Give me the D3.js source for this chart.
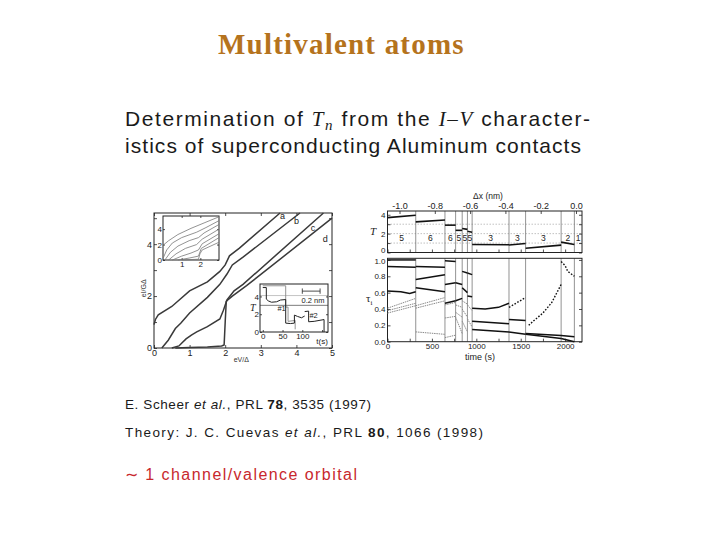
<!DOCTYPE html>
<html lang="en">
<head>
<meta charset="utf-8">
<title>Multivalent atoms</title>
<script src="https://cdn.jsdelivr.net/npm/d3@7"></script>
<style>
  body { margin: 0; background: #fff; }
  svg { display: block; }
  .tick text { font-family: "Liberation Sans", Arial, sans-serif; font-size: 9px; fill: #222; }
  .tick line { stroke: #222; stroke-width: 0.8; }
  .frame { fill: none; stroke: #222; stroke-width: 1; }
</style>
</head>
<body>
<svg id="slide" width="720" height="540"></svg>
<script>
// ---- left panel: I-V curves (eV/Delta, eI/G Delta) ----
var ivA = [[0,0.9],[0.04,1.1],[0.12,1.28],[0.5,1.6],[1.0,2.2],[1.5,2.55],[1.85,2.95],[2.0,3.2],[2.12,3.55],[2.4,3.85],[3.54,5.2]];
var ivB = [[0.22,0],[0.4,0.3],[0.6,0.75],[0.75,0.95],[1.0,1.35],[1.5,1.95],[1.85,2.45],[2.05,2.85],[2.2,3.2],[2.5,3.5],[4.1,5.2]];
var ivC = [[0.5,0],[0.7,0.08],[0.9,0.35],[1.05,0.5],[1.2,0.62],[1.5,0.82],[1.85,1.12],[1.95,1.45],[2.05,1.85],[2.25,2.2],[2.5,2.45],[4.76,5.2]];
var ivD = [[0.6,0],[1.0,0.02],[1.5,0.04],[1.9,0.08],[1.97,0.12],[2.0,1.0],[2.03,1.8],[2.2,2.0],[2.6,2.4],[5.0,5.0]];
var ivNames = ["a", "b", "c", "d"];
var ivLabelAt = [[3.54,4.96],[3.93,4.78],[4.4,4.49],[4.74,4.1]];

// upper-left inset: theory curves
var thCurves = [
  [[0,1.9],[0.3,2.5],[0.8,3.3],[1.5,4.1],[2.2,4.8],[3,5.6]],
  [[0,0.2],[0.2,1.3],[0.5,2.2],[1,2.9],[1.8,3.6],[2.3,4.2],[3,5.1]],
  [[0.1,0],[0.4,1.0],[0.8,1.8],[1.4,2.5],[1.9,2.9],[2.2,3.5],[3,4.6]],
  [[0.3,0],[0.7,0.8],[1.2,1.5],[1.8,2.0],[2.1,2.7],[3,4.0]],
  [[0.5,0],[1.0,0.5],[1.5,0.9],[1.9,1.3],[2.1,2.1],[3,3.4]],
  [[0.8,0],[1.4,0.25],[1.9,0.5],[2.05,1.5],[3,2.9]],
  [[1.0,0],[1.9,0.1],[1.98,0.8],[2.1,1.3],[3,2.3]]
];

// lower-right inset: conductance vs time (s)
var gTrace1 = [[0,5.0],[9,5.0],[9,3.7],[14,3.5],[22,3.35],[35,3.4],[45,3.6],[58,3.65],[58,1.0],[70,0.95],[80,1.0],[80,1.9],[88,1.75],[98,1.6],[106,1.8]];
var gTrace2 = [[106,2.3],[116,2.35],[116,1.15],[130,1.2],[155,1.4],[155,0]];
var gTraceGray = [[0,5.2],[58,5.2],[58,2.8],[64,2.8],[64,1.2],[82,1.3],[82,0.3]];
var gRefLevels = [3.0, 4.1];

// ---- right panel: total transmission and channel transmissions vs time ----
var segBounds = [318, 647, 767, 841, 900, 953, 1368, 1555, 1955, 2104];
var segLabels = ["5", "6", "6", "5", "5", "5", "3", "3", "3", "2", "1"];
var totalT = [
  [0,3.7,318,3.95], [318,3.25,647,3.45], [647,2.9,767,2.9], [767,2.35,841,2.35],
  [841,2.55,900,2.45], [900,2.25,953,2.15], [953,0.85,1368,0.82], [1368,0.8,1555,0.95],
  [1555,0.45,1955,0.78], [1955,1.1,2104,0.85]
];
var chanDark = [
  [[0,1.0],[318,1.0]], [[0,0.92],[318,0.91]], [[0,0.62],[150,0.61],[250,0.59],[318,0.61]],
  [[318,0.92],[647,0.91]], [[318,0.76],[647,0.82]], [[318,0.66],[647,0.61]],
  [[647,0.99],[767,0.98]], [[647,0.70],[767,0.72]], [[647,0.47],[767,0.50]],
  [[767,0.72],[841,0.70]], [[767,0.50],[841,0.53]],
  [[841,0.86],[900,0.84]], [[841,0.66],[900,0.60]],
  [[900,0.84],[953,0.82]], [[900,0.56],[953,0.55]],
  [[953,0.41],[1100,0.40],[1250,0.42],[1368,0.47]], [[953,0.25],[1368,0.22]],
  [[953,0.15],[1368,0.12]], [[1368,0.27],[1555,0.26]], [[1368,0.12],[1555,0.09]],
  [[1555,0.09],[1955,0.04]], [[1955,0.04],[2104,0.0]], [[1555,0.10],[1955,0.075],[2104,0.06]]
];
var chanDotted = [
  [[1368,0.42],[1555,0.54]],
  [[1590,0.20],[1650,0.26],[1750,0.35],[1850,0.48],[1955,0.70]],
  [[1955,0.98],[2000,0.93],[2030,0.86],[2104,0.80]]
];
var chanGray = [
  [[0,0.41],[318,0.53]], [[0,0.38],[318,0.47]], [[0,0.35],[318,0.44]],
  [[318,0.44],[647,0.54]], [[318,0.41],[647,0.50]], [[318,0.12],[647,0.09]],
  [[647,0.45],[767,0.48]], [[647,0.29],[767,0.31]], [[647,0.05],[767,0.08]],
  [[767,0.45],[841,0.42]], [[767,0.36],[841,0.30]], [[767,0.30],[841,0.10]],
  [[841,0.50],[900,0.46]], [[841,0.40],[900,0.30]], [[841,0.25],[900,0.12]],
  [[900,0.45],[953,0.38]], [[900,0.28],[953,0.18]]
];

var svg = d3.select("#slide");
var sans = "'Liberation Sans', Arial, sans-serif";
var serif = "'Liberation Serif', 'Times New Roman', serif";

// ---- slide text ----
svg.append("text").attr("x", 218).attr("y", 54)
  .attr("font-family", serif).attr("font-weight", "bold").attr("font-size", 29)
  .attr("letter-spacing", 1.2).attr("fill", "#B5731D").text("Multivalent atoms");

var l1 = svg.append("text").attr("x", 125).attr("y", 126)
  .attr("font-family", sans).attr("font-size", 21).attr("fill", "#1a1a1a")
  .attr("textLength", 465).attr("lengthAdjust", "spacing");
l1.append("tspan").text("Determination of ");
l1.append("tspan").attr("font-family", serif).attr("font-style", "italic").text("T");
l1.append("tspan").attr("font-family", serif).attr("font-style", "italic").attr("font-size", 15).attr("dy", 4).text("n");
l1.append("tspan").attr("dy", -4).text("  from the ");
l1.append("tspan").attr("font-family", serif).attr("font-style", "italic").text("I–V");
l1.append("tspan").text("  character-");

svg.append("text").attr("x", 125).attr("y", 153)
  .attr("font-family", sans).attr("font-size", 21).attr("fill", "#1a1a1a")
  .attr("textLength", 456).attr("lengthAdjust", "spacing")
  .text("istics of superconducting Aluminum contacts");

var r1 = svg.append("text").attr("x", 125).attr("y", 409)
  .attr("font-family", sans).attr("font-size", 13.5).attr("fill", "#1a1a1a")
  .attr("textLength", 246).attr("lengthAdjust", "spacing");
r1.append("tspan").text("E. Scheer ");
r1.append("tspan").attr("font-style", "italic").text("et al.");
r1.append("tspan").text(", PRL ");
r1.append("tspan").attr("font-weight", "bold").text("78");
r1.append("tspan").text(", 3535 (1997)");

var r2 = svg.append("text").attr("x", 125).attr("y", 437)
  .attr("font-family", sans).attr("font-size", 13.5).attr("fill", "#1a1a1a")
  .attr("textLength", 358).attr("lengthAdjust", "spacing");
r2.append("tspan").text("Theory: J. C. Cuevas ");
r2.append("tspan").attr("font-style", "italic").text("et al.");
r2.append("tspan").text(", PRL ");
r2.append("tspan").attr("font-weight", "bold").text("80");
r2.append("tspan").text(", 1066 (1998)");

svg.append("text").attr("x", 125).attr("y", 480)
  .attr("font-family", sans).attr("font-size", 16).attr("fill", "#C8282D")
  .attr("textLength", 232).attr("lengthAdjust", "spacing")
  .text("∼ 1 channel/valence orbital");

// ---- helpers ----
function axes(g, x, y, o) {
  var y0 = y.range()[0], y1 = y.range()[1], x0 = x.range()[0], x1 = x.range()[1];
  var lab = function (list) { return function (d) { return list.indexOf(d) >= 0 ? o.fmt(d) : ""; }; };
  g.append("g").attr("transform", "translate(0," + y0 + ")")
    .call(d3.axisBottom(x).tickValues(o.xt).tickSize(-o.ts).tickPadding(o.tp).tickFormat(o.xl ? lab(o.xl) : ""));
  g.append("g").attr("class", "yax").attr("transform", "translate(" + x0 + ",0)")
    .call(d3.axisLeft(y).tickValues(o.yt).tickSize(-o.ts).tickPadding(o.tp).tickFormat(o.yl ? function (d) { return o.yl.indexOf(d) >= 0 ? o.yfmt(d) : ""; } : ""));
  if (o.top) g.append("g").attr("transform", "translate(0," + y1 + ")")
    .call(d3.axisTop(x).tickValues(o.xt).tickSize(-o.ts).tickFormat(""));
  g.append("g").attr("transform", "translate(" + x1 + ",0)")
    .call(d3.axisRight(y).tickValues(o.yt).tickSize(-o.ts).tickFormat(""));
  g.selectAll(".domain").remove();
  g.append("rect").attr("class", "frame")
    .attr("x", x0).attr("y", y1).attr("width", x1 - x0).attr("height", y0 - y1);
}
function lineOf(x, y) {
  return d3.line().x(function (d) { return x(d[0]); }).y(function (d) { return y(d[1]); });
}

// ---- left: I-V characteristics ----
var xIV = d3.scaleLinear().domain([0, 5]).range([154, 332]);
var yIV = d3.scaleLinear().domain([0, 5.2]).range([348, 213]);
var gL = svg.append("g");
axes(gL, xIV, yIV, { xt: [0,1,2,3,4,5], yt: [0,1,2,3,4,5], ts: 3, tp: 2, top: true,
  xl: [0,1,2,3,4,5], fmt: d3.format("d"), yl: [0,2,4], yfmt: d3.format("d") });
var ivLine = lineOf(xIV, yIV);
gL.selectAll("path.iv").data([ivA, ivB, ivC, ivD]).enter().append("path")
  .attr("class", "iv").attr("d", ivLine)
  .attr("fill", "none").attr("stroke", "#3a3a3a").attr("stroke-width", 1.5);
gL.selectAll("text.ivn").data(ivLabelAt).enter().append("text")
  .attr("x", function (d) { return xIV(d[0]); }).attr("y", function (d) { return yIV(d[1]); })
  .attr("font-family", sans).attr("font-size", 9).attr("fill", "#222")
  .text(function (d, i) { return ivNames[i]; });
gL.append("text").attr("x", xIV(2.45)).attr("y", 362).attr("text-anchor", "middle")
  .attr("font-family", sans).attr("font-size", 7).attr("fill", "#333").text("eV/Δ");
gL.append("text").attr("transform", "translate(146," + yIV(2.3) + ") rotate(-90)")
  .attr("text-anchor", "middle").attr("font-family", sans).attr("font-size", 7).attr("fill", "#333").text("eI/GΔ");

// upper-left inset
var xTh = d3.scaleLinear().domain([0, 3]).range([163, 219]);
var yTh = d3.scaleLinear().domain([0, 5.7]).range([260, 216]);
var gI1 = svg.append("g");
gI1.append("rect").attr("x", 163).attr("y", 216).attr("width", 56).attr("height", 44).attr("fill", "#fff");
axes(gI1, xTh, yTh, { xt: [1,2], yt: [0,2,4], ts: 2, tp: 1, top: true,
  xl: [1,2], fmt: d3.format("d"), yl: [0,2,4], yfmt: d3.format("d") });
gI1.selectAll(".tick text").style("font-size", "8px");
var thLine = lineOf(xTh, yTh);
gI1.selectAll("path.th").data(thCurves).enter().append("path")
  .attr("d", thLine).attr("fill", "none").attr("stroke", "#777").attr("stroke-width", 0.8);

// lower-right inset
var xG = d3.scaleLinear().domain([-7, 165]).range([260, 328]);
var yG = d3.scaleLinear().domain([0, 5.4]).range([332, 284]);
var gI2 = svg.append("g");
gI2.append("rect").attr("x", 260).attr("y", 284).attr("width", 68).attr("height", 48).attr("fill", "#fff");
gI2.selectAll("line.ref").data(gRefLevels).enter().append("line")
  .attr("x1", 260).attr("x2", 328).attr("y1", yG).attr("y2", yG)
  .attr("stroke", function (d, i) { return i ? "#aaa" : "#444"; }).attr("stroke-width", 0.7);
axes(gI2, xG, yG, { xt: [0,50,100,150], yt: [0,2,4], ts: 2, tp: 1, top: false,
  xl: [0,50,100], fmt: d3.format("d"), yl: [0,2,4], yfmt: d3.format("d") });
gI2.selectAll(".tick text").style("font-size", "8px");
gI2.append("text").attr("x", xG(150)).attr("y", 344).attr("text-anchor", "middle")
  .attr("font-family", sans).attr("font-size", 8).attr("fill", "#222").text("t(s)");
var gLine = lineOf(xG, yG);
gI2.append("path").attr("d", gLine(gTraceGray)).attr("fill", "none").attr("stroke", "#888").attr("stroke-width", 0.9);
gI2.selectAll("path.gt").data([gTrace1, gTrace2]).enter().append("path")
  .attr("d", gLine).attr("fill", "none").attr("stroke", "#222").attr("stroke-width", 1);
gI2.append("line").attr("x1", xG(100)).attr("x2", xG(145)).attr("y1", yG(4.6)).attr("y2", yG(4.6))
  .attr("stroke", "#222").attr("stroke-width", 0.8);
gI2.selectAll("line.cap").data([100, 145]).enter().append("line")
  .attr("x1", xG).attr("x2", xG).attr("y1", yG(4.3)).attr("y2", yG(4.9)).attr("stroke", "#222").attr("stroke-width", 0.8);
gI2.append("text").attr("x", xG(98)).attr("y", yG(3.3)).attr("font-family", sans).attr("font-size", 7.5).attr("fill", "#222").text("0.2 nm");
gI2.append("text").attr("x", xG(37)).attr("y", yG(2.4)).attr("font-family", sans).attr("font-size", 7.5).attr("fill", "#222").text("#1");
gI2.append("text").attr("x", xG(118)).attr("y", yG(1.6)).attr("font-family", sans).attr("font-size", 7.5).attr("fill", "#222").text("#2");
gI2.append("text").attr("x", 250).attr("y", yG(2.4)).attr("font-family", serif).attr("font-style", "italic")
  .attr("font-size", 10).attr("fill", "#222").text("T");

// ---- right: total transmission (top) and channels (bottom) ----
var xT = d3.scaleLinear().domain([0, 2190]).range([387.5, 582]);
var yTop = d3.scaleLinear().domain([0, 4.4]).range([252.5, 211]);
var yBot = d3.scaleLinear().domain([0, 1.02]).range([341.7, 258.3]);
var xDx = d3.scaleLinear().domain([-1.068, 0.034]).range([387.5, 582]);
var tTicks = d3.range(0, 2190, 250);

var gT = svg.append("g");
gT.selectAll("line.lvl").data([1, 2, 3]).enter().append("line")
  .attr("x1", 387.5).attr("x2", 582).attr("y1", yTop).attr("y2", yTop)
  .attr("stroke", "#999").attr("stroke-width", 0.6).attr("stroke-dasharray", "1.5,1.5");
gT.selectAll("line.bd").data(segBounds).enter().append("line")
  .attr("x1", xT).attr("x2", xT).attr("y1", 211).attr("y2", 252.5)
  .attr("stroke", "#777").attr("stroke-width", 0.8);
axes(gT, xT, yTop, { xt: tTicks, yt: [0,1,2,3,4], ts: 3, tp: 2, top: false,
  yl: [0,2,4], yfmt: d3.format("d") });
gT.selectAll(".tick text").style("font-size", "8px");
// lift the bottom "0" of the upper panel so it clears the "1.0" below it
gT.selectAll(".yax .tick text").filter(function (d) { return d === 0; }).attr("dy", "-0.05em");
gT.append("g").attr("transform", "translate(0,211)")
  .call(d3.axisTop(xDx).tickValues([-1.0,-0.8,-0.6,-0.4,-0.2,0.0]).tickSize(-3).tickPadding(2)
    .tickFormat(function (d) { return d3.format(".1f")(d).replace("−", "-"); }))
  .select(".domain").remove();
gT.append("text").attr("x", 488).attr("y", 199).attr("text-anchor", "middle")
  .attr("font-family", sans).attr("font-size", 8.5).attr("fill", "#222").text("Δx (nm)");
gT.selectAll("path.tt").data(totalT).enter().append("path")
  .attr("d", function (d) { return lineOf(xT, yTop)([[d[0], d[1]], [d[2], d[3]]]); })
  .attr("fill", "none").attr("stroke", "#111").attr("stroke-width", 1.6);
var segEdges = [0].concat(segBounds, [2190]);
gT.selectAll("text.seg").data(segLabels).enter().append("text")
  .attr("x", function (d, i) { return xT((segEdges[i] + segEdges[i + 1]) / 2); })
  .attr("y", yTop(1.5) + 3).attr("text-anchor", "middle")
  .attr("font-family", sans).attr("font-size", 8.5).attr("fill", "#222").text(function (d) { return d; });
gT.append("text").attr("x", 370).attr("y", 235).attr("font-family", serif).attr("font-style", "italic")
  .attr("font-size", 11).attr("fill", "#222").text("T");

var gB = svg.append("g");
gB.selectAll("line.bd").data(segBounds).enter().append("line")
  .attr("x1", xT).attr("x2", xT).attr("y1", 258.3).attr("y2", 341.7)
  .attr("stroke", "#777").attr("stroke-width", 0.8);
axes(gB, xT, yBot, { xt: tTicks, yt: [0,0.2,0.4,0.6,0.8,1.0], ts: 3, tp: 2, top: false,
  xl: [0,500,1000,1500,2000], fmt: d3.format("d"), yl: [0,0.2,0.4,0.6,0.8,1.0], yfmt: d3.format(".1f") });
gB.selectAll(".tick text").style("font-size", "8px");
gB.selectAll(".yax .tick text").filter(function (d) { return d === 1.0; }).attr("dy", "0.5em");
var chLine = lineOf(xT, yBot);
gB.selectAll("path.cg").data(chanGray).enter().append("path")
  .attr("d", chLine).attr("fill", "none").attr("stroke", "#8a8a8a").attr("stroke-width", 1)
  .attr("stroke-dasharray", "1.5,0.8");
gB.selectAll("path.cd").data(chanDark).enter().append("path")
  .attr("d", chLine).attr("fill", "none").attr("stroke", "#111").attr("stroke-width", 1.5);
gB.selectAll("path.cdot").data(chanDotted).enter().append("path")
  .attr("d", chLine).attr("fill", "none").attr("stroke", "#111").attr("stroke-width", 1.4)
  .attr("stroke-dasharray", "1.6,1.6");
gB.append("text").attr("x", 480).attr("y", 360).attr("text-anchor", "middle")
  .attr("font-family", sans).attr("font-size", 9).attr("fill", "#222").text("time (s)");
var tau = gB.append("text").attr("x", 366).attr("y", 302).attr("font-family", serif)
  .attr("font-size", 11).attr("fill", "#222");
tau.append("tspan").text("τ");
tau.append("tspan").attr("font-size", 7).attr("dy", 3).text("i");
</script>
</body>
</html>
